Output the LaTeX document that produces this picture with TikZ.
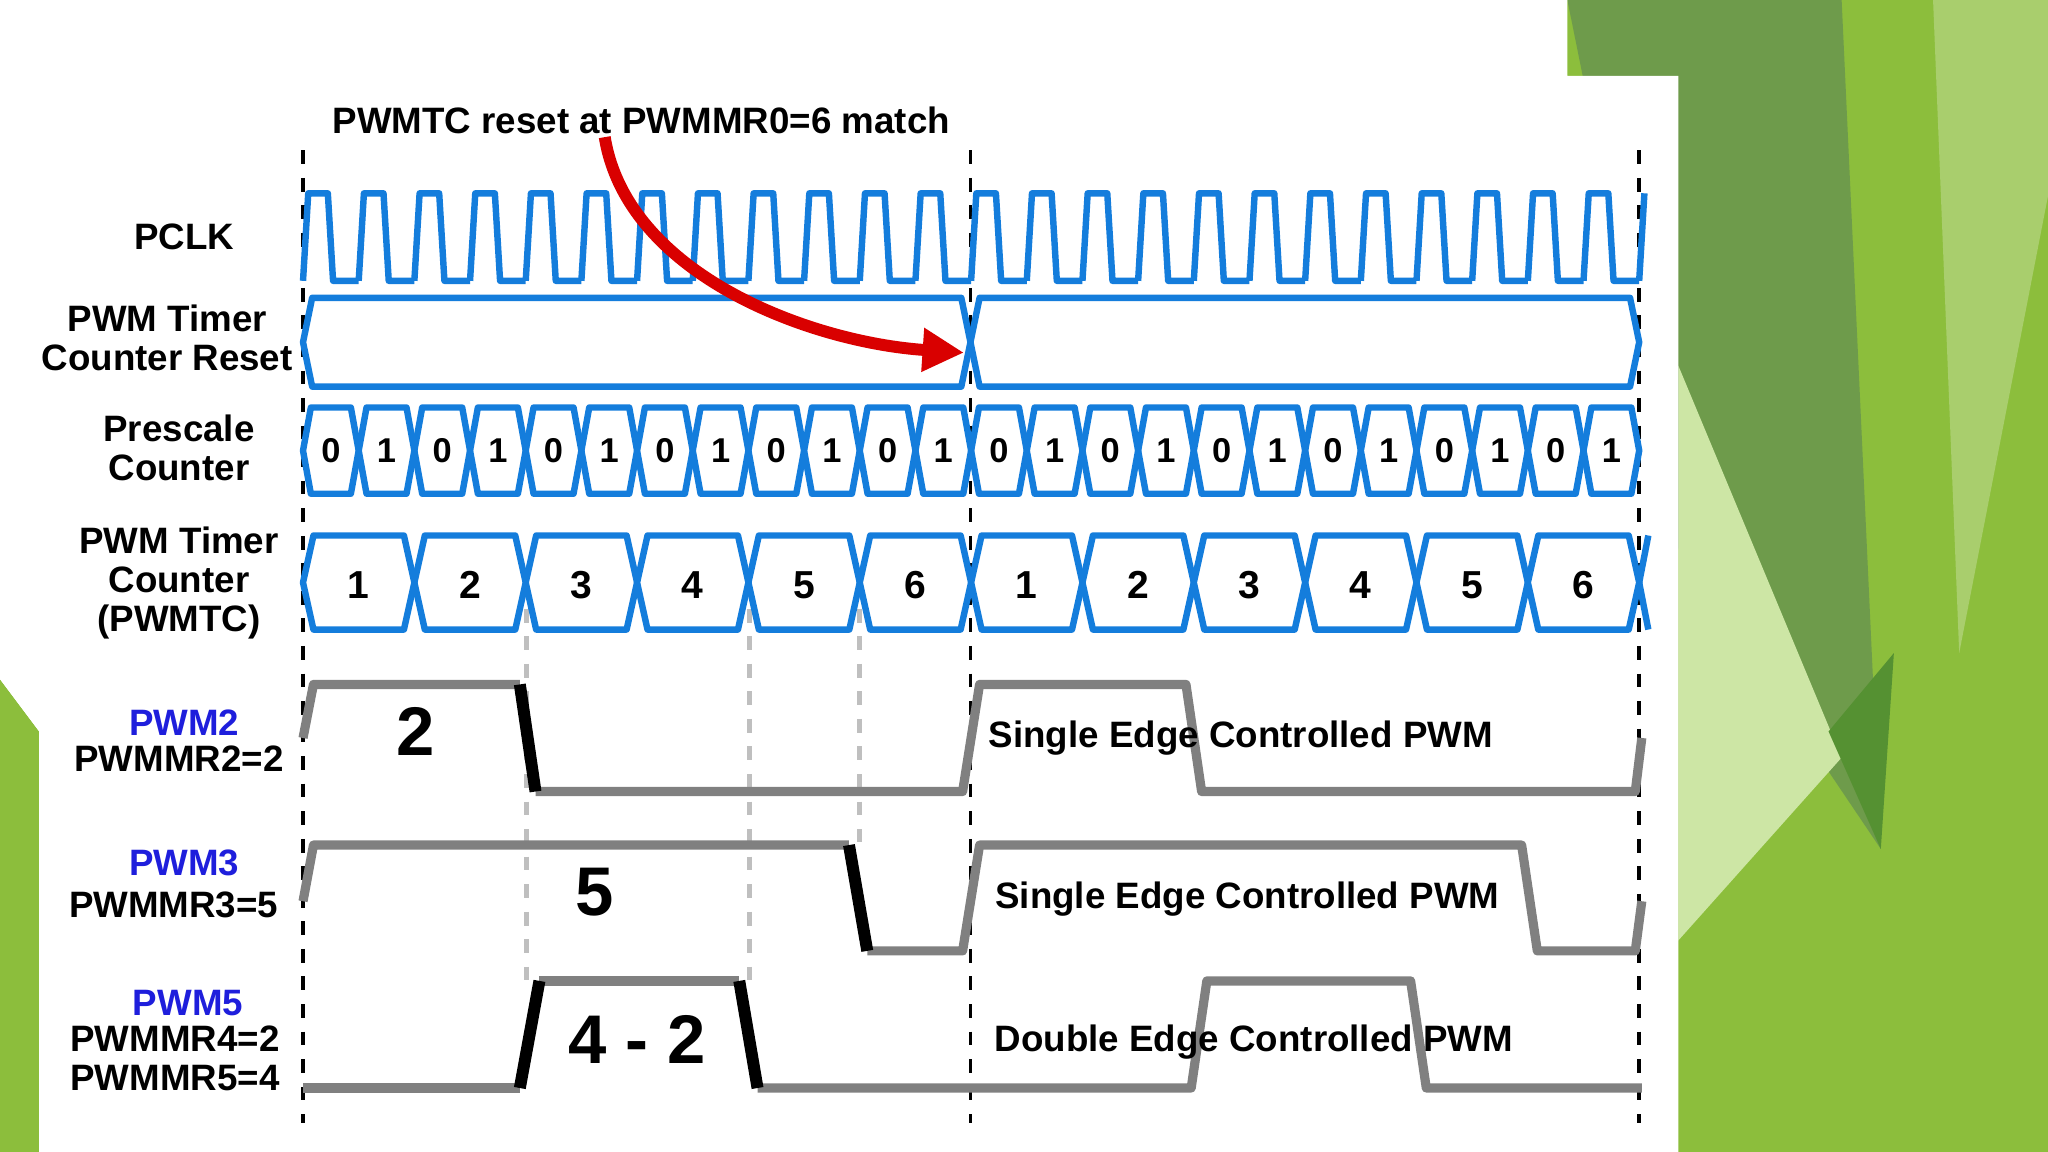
\documentclass[tikz,border=0pt]{standalone}
\usepackage{fontspec}
\setmainfont{Liberation Sans}
\usetikzlibrary{arrows.meta}
\definecolor{bl}{RGB}{20,125,220}
\definecolor{gr}{RGB}{128,128,128}
\definecolor{g1}{RGB}{140,190,60}
\definecolor{g2}{RGB}{110,155,75}
\definecolor{g3}{RGB}{205,230,165}
\definecolor{g4}{RGB}{85,145,50}
\definecolor{pb}{RGB}{30,30,220}
\begin{document}
\begin{tikzpicture}[x=0.1mm,y=-0.1mm,
 wave/.style={bl,line width=1.4pt,line join=round},
 sig/.style={gr,line width=2pt,line join=round},
 edge/.style={black,line width=2.6pt},
 lab/.style={font=\fontsize{8}{8.5}\selectfont\bfseries,align=center},
 big/.style={font=\fontsize{15}{15}\selectfont\bfseries},
 txt/.style={font=\fontsize{8}{9}\selectfont\bfseries},
 cell/.style={font=\fontsize{7.5}{8}\selectfont\bfseries},
 vd/.style={black,dashed,line width=0.8pt},
 gd/.style={gray!50,dashed,line width=1pt}]
\useasboundingbox (0,0) rectangle (1568,882);
% background
\fill[g1] (1200,0) -- (1568,0) -- (1568,882) -- (1200,882) -- cycle;
\fill[g2] (1200,0) -- (1410,0) -- (1440,650) -- (1285,420) -- cycle;
\fill[g3] (1285,280) -- (1410,580) -- (1285,720) -- cycle;
\fill[g4] (1400,560) -- (1450,500) -- (1440,650) -- cycle;
\fill[g1!75!white] (1480,0) -- (1568,0) -- (1568,150) -- (1500,500) -- cycle;
\fill[g1] (0,520) -- (30,560) -- (30,882) -- (0,882) -- cycle;
\fill[white] (0,0) -- (1200,0) -- (1200,58) -- (1285,58) -- (1285,882) -- (30,882) -- (30,560) -- (0,520) -- cycle;
% dashed verticals
\coordinate (t0) at (232,115); \coordinate (t0b) at (232,860);
\coordinate (t1) at (743,115); \coordinate (t1b) at (743,860);
\coordinate (t2) at (1255,115); \coordinate (t2b) at (1255,860);
\draw[vd] (t0)--(t0b); \draw[vd] (t1)--(t1b); \draw[vd] (t2)--(t2b);
\draw[gd] (403,445)--(403,750); \draw[gd] (574,445)--(574,750); \draw[gd] (658,445)--(658,645);
% PCLK
\foreach \i in {0,...,23}{
 \pgfmathsetmacro\a{232+\i*42.625}
 \draw[wave] (\a,215)--(\a+4,148)--(\a+19,148)--(\a+23,215)--(\a+42.625,215);}
\draw[wave] (1255,215)--(1259,148);
% reset bus
\foreach \a/\b in {232/743,743/1255}{
 \draw[wave] (\a,262)--(\a+7,228)--(\b-7,228)--(\b,262)--(\b-7,296)--(\a+7,296)--cycle;}
% prescale
\foreach \i in {0,...,23}{
 \pgfmathsetmacro\a{232+\i*42.625}
 \pgfmathsetmacro\b{\a+42.625}
 \pgfmathtruncatemacro\v{mod(\i,2)}
 \draw[wave] (\a,345)--(\a+6,312)--(\b-6,312)--(\b,345)--(\b-6,378)--(\a+6,378)--cycle;
 \node[cell] (p\i) at ({(\a+\b)/2},345) {\v};}
% PWMTC
\foreach \i in {0,...,11}{
 \pgfmathsetmacro\a{232+\i*85.25}
 \pgfmathsetmacro\b{\a+85.25}
 \pgfmathtruncatemacro\v{mod(\i,6)+1}
 \draw[wave] (\a,446)--(\a+8,410)--(\b-8,410)--(\b,446)--(\b-8,482)--(\a+8,482)--cycle;
 \node[cell,font=\fontsize{8.5}{9}\selectfont\bfseries] (c\i) at ({(\a+\b)/2},448) {\v};}
\draw[wave] (1255,446)--(1262,410); \draw[wave] (1255,446)--(1262,482);
% title + arrow
\node[txt] (title) at (491,92) {PWMTC reset at PWMMR0=6 match};
\coordinate (ar) at (738,270);
\draw[red!85!black,line width=2.6pt,-{Triangle[length=9pt,width=9pt]}] (463,105) .. controls (480,210) and (620,262) .. (ar);
% left labels
\node[lab] (l1) at (141,181) {PCLK};
\node[lab] (l2) at (128,259) {PWM Timer\\Counter Reset};
\node[lab] (l3) at (137,343) {Prescale\\Counter};
\node[lab] (l4) at (137,446) {PWM Timer\\Counter\\(PWMTC)};
\node[lab,text=pb] (l5) at (141,553) {PWM2};
\node[lab] (l6) at (137,581) {PWMMR2=2};
\node[lab,text=pb] (l7) at (141,661) {PWM3};
\node[lab] (l8) at (133,693) {PWMMR3=5};
\node[lab,text=pb] (l9) at (144,768) {PWM5};
\node[lab] (l10) at (134,795) {PWMMR4=2};
\node[lab] (l11) at (134,825) {PWMMR5=4};
% PWM2
\draw[sig] (232,565)--(240,524)--(398,524);
\draw[sig] (410,606)--(737,606)--(750,524)--(908,524)--(920,606)--(1252,606)--(1257,565);
\draw[edge] (398,524)--(410,606);
\node[big] (n2) at (318,560) {2};
\node[txt] (s2) at (950,565) {Single Edge Controlled PWM};
% PWM3
\draw[sig] (232,690)--(240,647)--(650,647);
\draw[sig] (664,728)--(737,728)--(750,647)--(1165,647)--(1177,728)--(1252,728)--(1257,690);
\draw[edge] (650,647)--(664,728);
\node[big] (n3) at (455,683) {5};
\node[txt] (s3) at (955,688) {Single Edge Controlled PWM};
% PWM5
\draw[sig] (232,833)--(398,833);
\draw[sig] (413,751)--(566,751);
\draw[sig] (580,833)--(912,833)--(924,751)--(1080,751)--(1092,833)--(1257,833);
\draw[edge] (398,833)--(413,751); \draw[edge] (566,751)--(580,833);
\node[big] (n5) at (488,796) {4 - 2};
\node[txt] (s5) at (960,798) {Double Edge Controlled PWM};
\end{tikzpicture}
\end{document}
